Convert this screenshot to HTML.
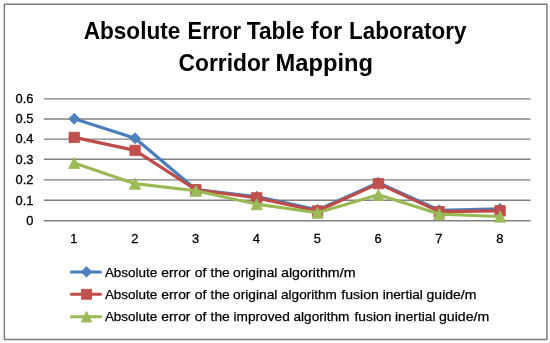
<!DOCTYPE html>
<html lang="en">
<head>
<meta charset="utf-8">
<title>Absolute Error Table for Laboratory Corridor Mapping</title>
<style>
html,body{margin:0;padding:0;background:#fff;}
body{width:550px;height:343px;overflow:hidden;}
svg{display:block;}
text{font-family:"Liberation Sans",Arial,sans-serif;fill:#000000;}
.t{font-weight:bold;font-size:23.8px;}
.ax{font-size:12.9px;stroke:#000;stroke-width:0.3px;}
.lg{font-size:13.6px;stroke:#000;stroke-width:0.25px;}
</style>
</head>
<body>
<svg width="550" height="343" viewBox="0 0 550 343">
<rect x="0" y="0" width="550" height="343" fill="#ffffff"/>
<rect x="4.35" y="4.2" width="542.6" height="335.4" rx="0.6" ry="0.6" fill="#ffffff" stroke="#7c7c7c" stroke-width="1.5"/>
<text class="t"><tspan x="83.65" y="39.00" textLength="96.74" lengthAdjust="spacingAndGlyphs">Absolute</tspan> <tspan x="187.59" y="39.00" textLength="53.51" lengthAdjust="spacingAndGlyphs">Error</tspan> <tspan x="246.77" y="39.00" textLength="57.72" lengthAdjust="spacingAndGlyphs">Table</tspan> <tspan x="310.87" y="39.00" textLength="31.15" lengthAdjust="spacingAndGlyphs">for</tspan> <tspan x="349.05" y="39.00" textLength="117.36" lengthAdjust="spacingAndGlyphs">Laboratory</tspan> <tspan x="178.59" y="71.00" textLength="91.12" lengthAdjust="spacingAndGlyphs">Corridor</tspan> <tspan x="275.58" y="71.00" textLength="97.47" lengthAdjust="spacingAndGlyphs">Mapping</tspan></text>
<g stroke="#808080" stroke-width="1.4">
<line x1="43.80" y1="220.70" x2="530.50" y2="220.70"/>
<line x1="43.80" y1="200.20" x2="530.50" y2="200.20"/>
<line x1="43.80" y1="179.90" x2="530.50" y2="179.90"/>
<line x1="43.80" y1="159.30" x2="530.50" y2="159.30"/>
<line x1="43.80" y1="139.10" x2="530.50" y2="139.10"/>
<line x1="43.80" y1="119.05" x2="530.50" y2="119.05"/>
<line x1="43.80" y1="98.85" x2="530.50" y2="98.85"/>
</g>
<g class="ax" text-anchor="end">
<text class="ax" x="33.5" y="225.00">0</text>
<text class="ax" x="33.5" y="205.00">0.1</text>
<text class="ax" x="33.5" y="184.00">0.2</text>
<text class="ax" x="33.5" y="164.00">0.3</text>
<text class="ax" x="33.5" y="143.00">0.4</text>
<text class="ax" x="33.5" y="123.00">0.5</text>
<text class="ax" x="33.5" y="103.00">0.6</text>
</g>
<g class="ax" text-anchor="middle">
<text class="ax" x="73.92" y="243">1</text>
<text class="ax" x="134.76" y="243">2</text>
<text class="ax" x="195.59" y="243">3</text>
<text class="ax" x="256.43" y="243">4</text>
<text class="ax" x="317.27" y="243">5</text>
<text class="ax" x="378.11" y="243">6</text>
<text class="ax" x="438.94" y="243">7</text>
<text class="ax" x="499.78" y="243">8</text>
</g>
<polyline points="74.22,118.74 135.06,138.22 195.89,189.56 256.73,196.66 317.57,209.85 378.41,182.66 439.24,210.25 500.08,208.83" fill="none" stroke="#4a7ebb" stroke-width="3.15" stroke-linecap="round" stroke-linejoin="round"/>
<path d="M74.22 113.24L79.72 118.74L74.22 124.24L68.72 118.74ZM135.06 132.72L140.56 138.22L135.06 143.72L129.56 138.22ZM195.89 184.06L201.39 189.56L195.89 195.06L190.39 189.56ZM256.73 191.16L262.23 196.66L256.73 202.16L251.23 196.66ZM317.57 204.35L323.07 209.85L317.57 215.35L312.07 209.85ZM378.41 177.16L383.91 182.66L378.41 188.16L372.91 182.66ZM439.24 204.75L444.74 210.25L439.24 215.75L433.74 210.25ZM500.08 203.33L505.58 208.83L500.08 214.33L494.58 208.83Z" fill="#4f81bd" stroke="#4a7ebb" stroke-width="0.8"/>
<polyline points="74.22,137.41 135.06,150.40 195.89,189.76 256.73,197.88 317.57,211.06 378.41,183.67 439.24,211.67 500.08,210.86" fill="none" stroke="#be4b48" stroke-width="3.15" stroke-linecap="round" stroke-linejoin="round"/>
<path d="M69.02 132.21h10.40v10.40h-10.40ZM129.86 145.20h10.40v10.40h-10.40ZM190.69 184.56h10.40v10.40h-10.40ZM251.53 192.68h10.40v10.40h-10.40ZM312.37 205.86h10.40v10.40h-10.40ZM373.21 178.47h10.40v10.40h-10.40ZM434.04 206.47h10.40v10.40h-10.40ZM494.88 205.66h10.40v10.40h-10.40Z" fill="#c0504d" stroke="#be4b48" stroke-width="0.8"/>
<polyline points="74.22,162.98 135.06,183.67 195.89,190.77 256.73,204.17 317.57,212.69 378.41,194.83 439.24,214.11 500.08,216.54" fill="none" stroke="#98b954" stroke-width="3.15" stroke-linecap="round" stroke-linejoin="round"/>
<path d="M74.22 157.38L79.82 168.58L68.62 168.58ZM135.06 178.07L140.66 189.27L129.46 189.27ZM195.89 185.17L201.49 196.37L190.29 196.37ZM256.73 198.57L262.33 209.77L251.13 209.77ZM317.57 207.09L323.17 218.29L311.97 218.29ZM378.41 189.23L384.01 200.43L372.81 200.43ZM439.24 208.51L444.84 219.71L433.64 219.71ZM500.08 210.94L505.68 222.14L494.48 222.14Z" fill="#9bbb59" stroke="#98b954" stroke-width="0.8"/>
<line x1="71.4" y1="271.90" x2="100.5" y2="271.90" stroke="#4a7ebb" stroke-width="3" stroke-linecap="round"/>
<path d="M86.50 266.60L91.80 271.90L86.50 277.20L81.20 271.90Z" fill="#4f81bd" stroke="#4a7ebb" stroke-width="0.8"/>
<text class="lg"><tspan x="104.90" y="277.00" textLength="52.39" lengthAdjust="spacingAndGlyphs">Absolute</tspan> <tspan x="161.25" y="277.00" textLength="29.23" lengthAdjust="spacingAndGlyphs">error</tspan> <tspan x="194.74" y="277.00" textLength="11.63" lengthAdjust="spacingAndGlyphs">of</tspan> <tspan x="210.56" y="277.00" textLength="19.24" lengthAdjust="spacingAndGlyphs">the</tspan> <tspan x="233.05" y="277.00" textLength="44.30" lengthAdjust="spacingAndGlyphs">original</tspan> <tspan x="281.03" y="277.00" textLength="74.57" lengthAdjust="spacingAndGlyphs">algorithm/m</tspan></text>
<line x1="71.4" y1="294.30" x2="100.5" y2="294.30" stroke="#be4b48" stroke-width="3" stroke-linecap="round"/>
<path d="M81.50 289.30h10.00v10.00h-10.00Z" fill="#c0504d" stroke="#be4b48" stroke-width="0.8"/>
<text class="lg"><tspan x="104.90" y="299.00" textLength="52.39" lengthAdjust="spacingAndGlyphs">Absolute</tspan> <tspan x="161.25" y="299.00" textLength="29.23" lengthAdjust="spacingAndGlyphs">error</tspan> <tspan x="194.74" y="299.00" textLength="11.63" lengthAdjust="spacingAndGlyphs">of</tspan> <tspan x="210.56" y="299.00" textLength="19.24" lengthAdjust="spacingAndGlyphs">the</tspan> <tspan x="233.05" y="299.00" textLength="44.30" lengthAdjust="spacingAndGlyphs">original</tspan> <tspan x="281.06" y="299.00" textLength="55.80" lengthAdjust="spacingAndGlyphs">algorithm</tspan> <tspan x="341.36" y="299.00" textLength="37.43" lengthAdjust="spacingAndGlyphs">fusion</tspan> <tspan x="382.68" y="299.00" textLength="40.17" lengthAdjust="spacingAndGlyphs">inertial</tspan> <tspan x="426.54" y="299.00" textLength="49.95" lengthAdjust="spacingAndGlyphs">guide/m</tspan></text>
<line x1="71.4" y1="316.70" x2="100.5" y2="316.70" stroke="#98b954" stroke-width="3" stroke-linecap="round"/>
<path d="M86.50 311.40L91.80 322.00L81.20 322.00Z" fill="#9bbb59" stroke="#98b954" stroke-width="0.8"/>
<text class="lg"><tspan x="104.90" y="321.00" textLength="52.39" lengthAdjust="spacingAndGlyphs">Absolute</tspan> <tspan x="161.25" y="321.00" textLength="29.23" lengthAdjust="spacingAndGlyphs">error</tspan> <tspan x="194.74" y="321.00" textLength="11.63" lengthAdjust="spacingAndGlyphs">of</tspan> <tspan x="210.56" y="321.00" textLength="19.24" lengthAdjust="spacingAndGlyphs">the</tspan> <tspan x="233.48" y="321.00" textLength="56.29" lengthAdjust="spacingAndGlyphs">improved</tspan> <tspan x="293.56" y="321.00" textLength="55.90" lengthAdjust="spacingAndGlyphs">algorithm</tspan> <tspan x="354.46" y="321.00" textLength="36.92" lengthAdjust="spacingAndGlyphs">fusion</tspan> <tspan x="395.08" y="321.00" textLength="40.37" lengthAdjust="spacingAndGlyphs">inertial</tspan> <tspan x="439.03" y="321.00" textLength="50.26" lengthAdjust="spacingAndGlyphs">guide/m</tspan></text>
</svg>
</body>
</html>
